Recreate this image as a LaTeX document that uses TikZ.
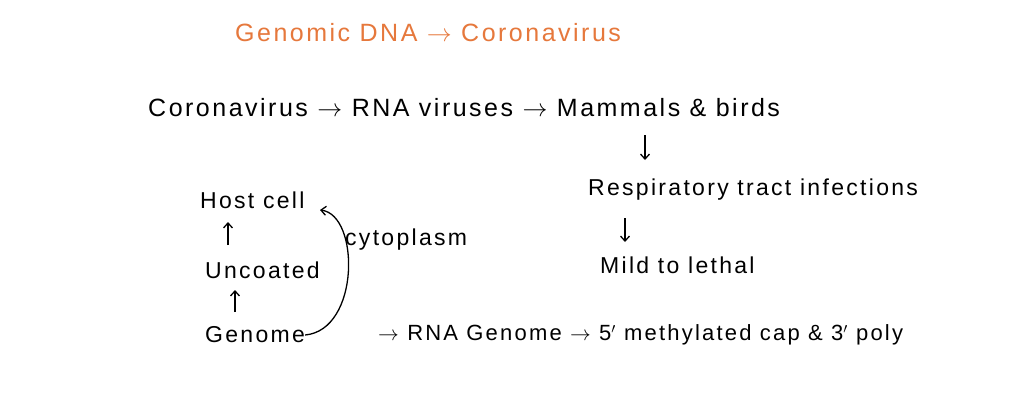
\documentclass[tikz,border=0pt]{standalone}
\usepackage{fontspec}
\usetikzlibrary{arrows.meta}
\setmainfont[LetterSpace=10]{Liberation Sans}
\begin{document}
\begin{tikzpicture}[x=1pt,y=-1pt,
  txt/.style={font=\fontsize{23}{26}\selectfont, inner sep=0pt, anchor=west},
  big/.style={txt, font=\fontsize{25}{28}\selectfont},
  arr/.style={-{Straight Barb[length=5pt,width=9pt]}, line width=1.3pt}]
\useasboundingbox[fill=white] (0,0) rectangle (1024,418);
\node[big, text={rgb,255:red,230;green,120;blue,60}] (title) at (235,33) {Genomic DNA $\rightarrow$ Coronavirus};
\node[big] (l1) at (148,108) {Coronavirus $\rightarrow$ RNA viruses $\rightarrow$ Mammals \& birds};
\node[txt] (resp) at (588,190) {Respiratory tract infections};
\node[txt] (mild) at (600,265) {Mild to lethal};
\coordinate (a1) at (645,135); \coordinate (a2) at (645,160);
\draw[arr] (a1) -- (a2);
\coordinate (b1) at (625,218); \coordinate (b2) at (625,242);
\draw[arr] (b1) -- (b2);
\node[txt] (host) at (200,200) {Host cell};
\node[txt] (unc) at (205,270) {Uncoated};
\node[txt] (gen) at (205,335) {Genome};
\coordinate (u1) at (228,245); \coordinate (u2) at (228,222);
\draw[arr] (u1) -- (u2);
\coordinate (g1) at (235,312); \coordinate (g2) at (235,290);
\draw[arr] (g1) -- (g2);
\coordinate (hc) at (320,210);
\draw[arr] (gen.east) .. controls (360,330) and (360,215) .. (hc);
\node[txt] (cyto) at (345,240) {cytoplasm};
\node[txt, font=\fontsize{22}{26}\selectfont] (l2) at (378,335) {$\rightarrow$ RNA Genome $\rightarrow$ 5$'$ methylated cap \& 3$'$ poly};
\end{tikzpicture}
\end{document}
